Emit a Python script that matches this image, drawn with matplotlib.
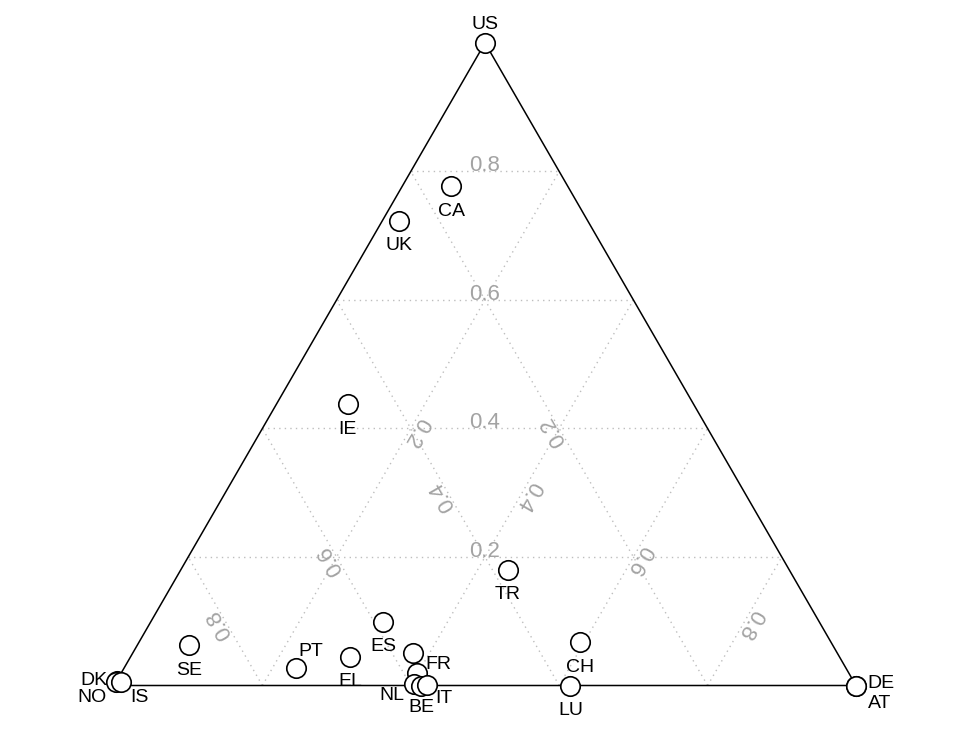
import numpy as np
import matplotlib
matplotlib.use("Agg")
import matplotlib.pyplot as plt

plt.rcParams['font.family'] = ['Liberation Sans', 'DejaVu Sans']

# country codes and their three shares (left / right / top corner)
countries = ['US', 'CA', 'UK', 'IE', 'TR', 'SE', 'PT', 'EL', 'ES', 'FR', '',
             'NL', 'BE', 'IT', 'CH', 'LU', 'DE', 'AT', 'DK', 'NO', 'IS']
share_left = [0.000, 0.157, 0.254, 0.466, 0.379, 0.867, 0.741, 0.659, 0.588, 0.572, 0.582,
              0.595, 0.586, 0.577, 0.338, 0.385, 0.000, 0.000, 0.993, 0.995, 0.987]
share_right = [0.000, 0.066, 0.023, 0.096, 0.441, 0.070, 0.232, 0.296, 0.313, 0.377, 0.399,
               0.403, 0.414, 0.422, 0.595, 0.615, 1.000, 1.000, 0.000, 0.000, 0.007]
share_top = [1.000, 0.777, 0.723, 0.438, 0.180, 0.063, 0.027, 0.045, 0.099, 0.051, 0.019,
             0.002, 0.000, 0.001, 0.067, 0.000, 0.000, 0.000, 0.007, 0.005, 0.006]

grid_levels = [0.2, 0.4, 0.6, 0.8]

# where each label sits relative to its point (pixels, y up)
label_offset = {
    'US': (0, 20), 'PT': (15, 19), 'FR': (26, -10), 'NL': (-22, -9),
    'BE': (0, -20), 'IT': (16, -12), 'DE': (25, 4), 'AT': (24, -16),
    'DK': (-23, 3), 'NO': (-24, -13), 'IS': (18, -14),
}
default_offset = (0, -23)

h = np.sqrt(3) / 2


def to_xy(a, b, c):
    # barycentric -> cartesian, left corner (0,0), right (1,0), top (0.5, h)
    a, b, c = np.asarray(a, float), np.asarray(b, float), np.asarray(c, float)
    s = a + b + c
    return (b + c / 2) / s, (c * h) / s


fig = plt.figure(figsize=(9.68, 7.54), dpi=100)
ax = fig.add_axes([0, 0, 1, 1])
W = 742.0
ax.set_xlim(-114 / W, (968 - 114) / W)
ax.set_ylim(-68.5 / W, 685.5 / W)
ax.axis('off')

grid_kw = dict(color='#bebebe', lw=1.0, ls=(0, (1, 3)), zorder=1)
lab_kw = dict(color='#a3a3a3', fontsize=16, ha='center', va='center_baseline',
              rotation_mode='anchor', zorder=1.5)
for v in grid_levels:
    w = 1 - v
    # top component: horizontal lines
    x, y = to_xy([w, 0], [0, w], [v, v])
    ax.plot(x, y, **grid_kw)
    mx, my = to_xy(w / 2, w / 2, v)
    ax.annotate(f'{v:.1f}', (mx, my), xytext=(0, 8), textcoords='offset pixels',
                rotation=0, **lab_kw)
    # left component
    x, y = to_xy([v, v], [w, 0], [0, w])
    ax.plot(x, y, **grid_kw)
    mx, my = to_xy(v, w / 2, w / 2)
    ax.annotate(f'{v:.1f}', (mx, my), xytext=(-0.866 * 9, -0.5 * 9),
                textcoords='offset pixels', rotation=120, **lab_kw)
    # right component
    x, y = to_xy([w, 0], [v, v], [0, w])
    ax.plot(x, y, **grid_kw)
    mx, my = to_xy(w / 2, v, w / 2)
    ax.annotate(f'{v:.1f}', (mx, my), xytext=(0.866 * 9, -0.5 * 9),
                textcoords='offset pixels', rotation=240, **lab_kw)

# triangle
tx, ty = to_xy([1, 0, 0, 1], [0, 1, 0, 0], [0, 0, 1, 0])
ax.plot(tx, ty, color='black', lw=1.1, zorder=2, solid_joinstyle='miter')

px, py = to_xy(share_left, share_right, share_top)
ax.plot(px, py, 'o', ms=14, mfc='white', mec='black', mew=1.2, ls='none', zorder=3)

for name, x, y in zip(countries, px, py):
    if not name:
        continue
    dx, dy = label_offset.get(name, default_offset)
    ax.annotate(name, (x, y), xytext=(dx, dy), textcoords='offset pixels',
                ha='center', va='center_baseline', fontsize=14, color='black', zorder=4)

fig.savefig('out.png', dpi=100)
